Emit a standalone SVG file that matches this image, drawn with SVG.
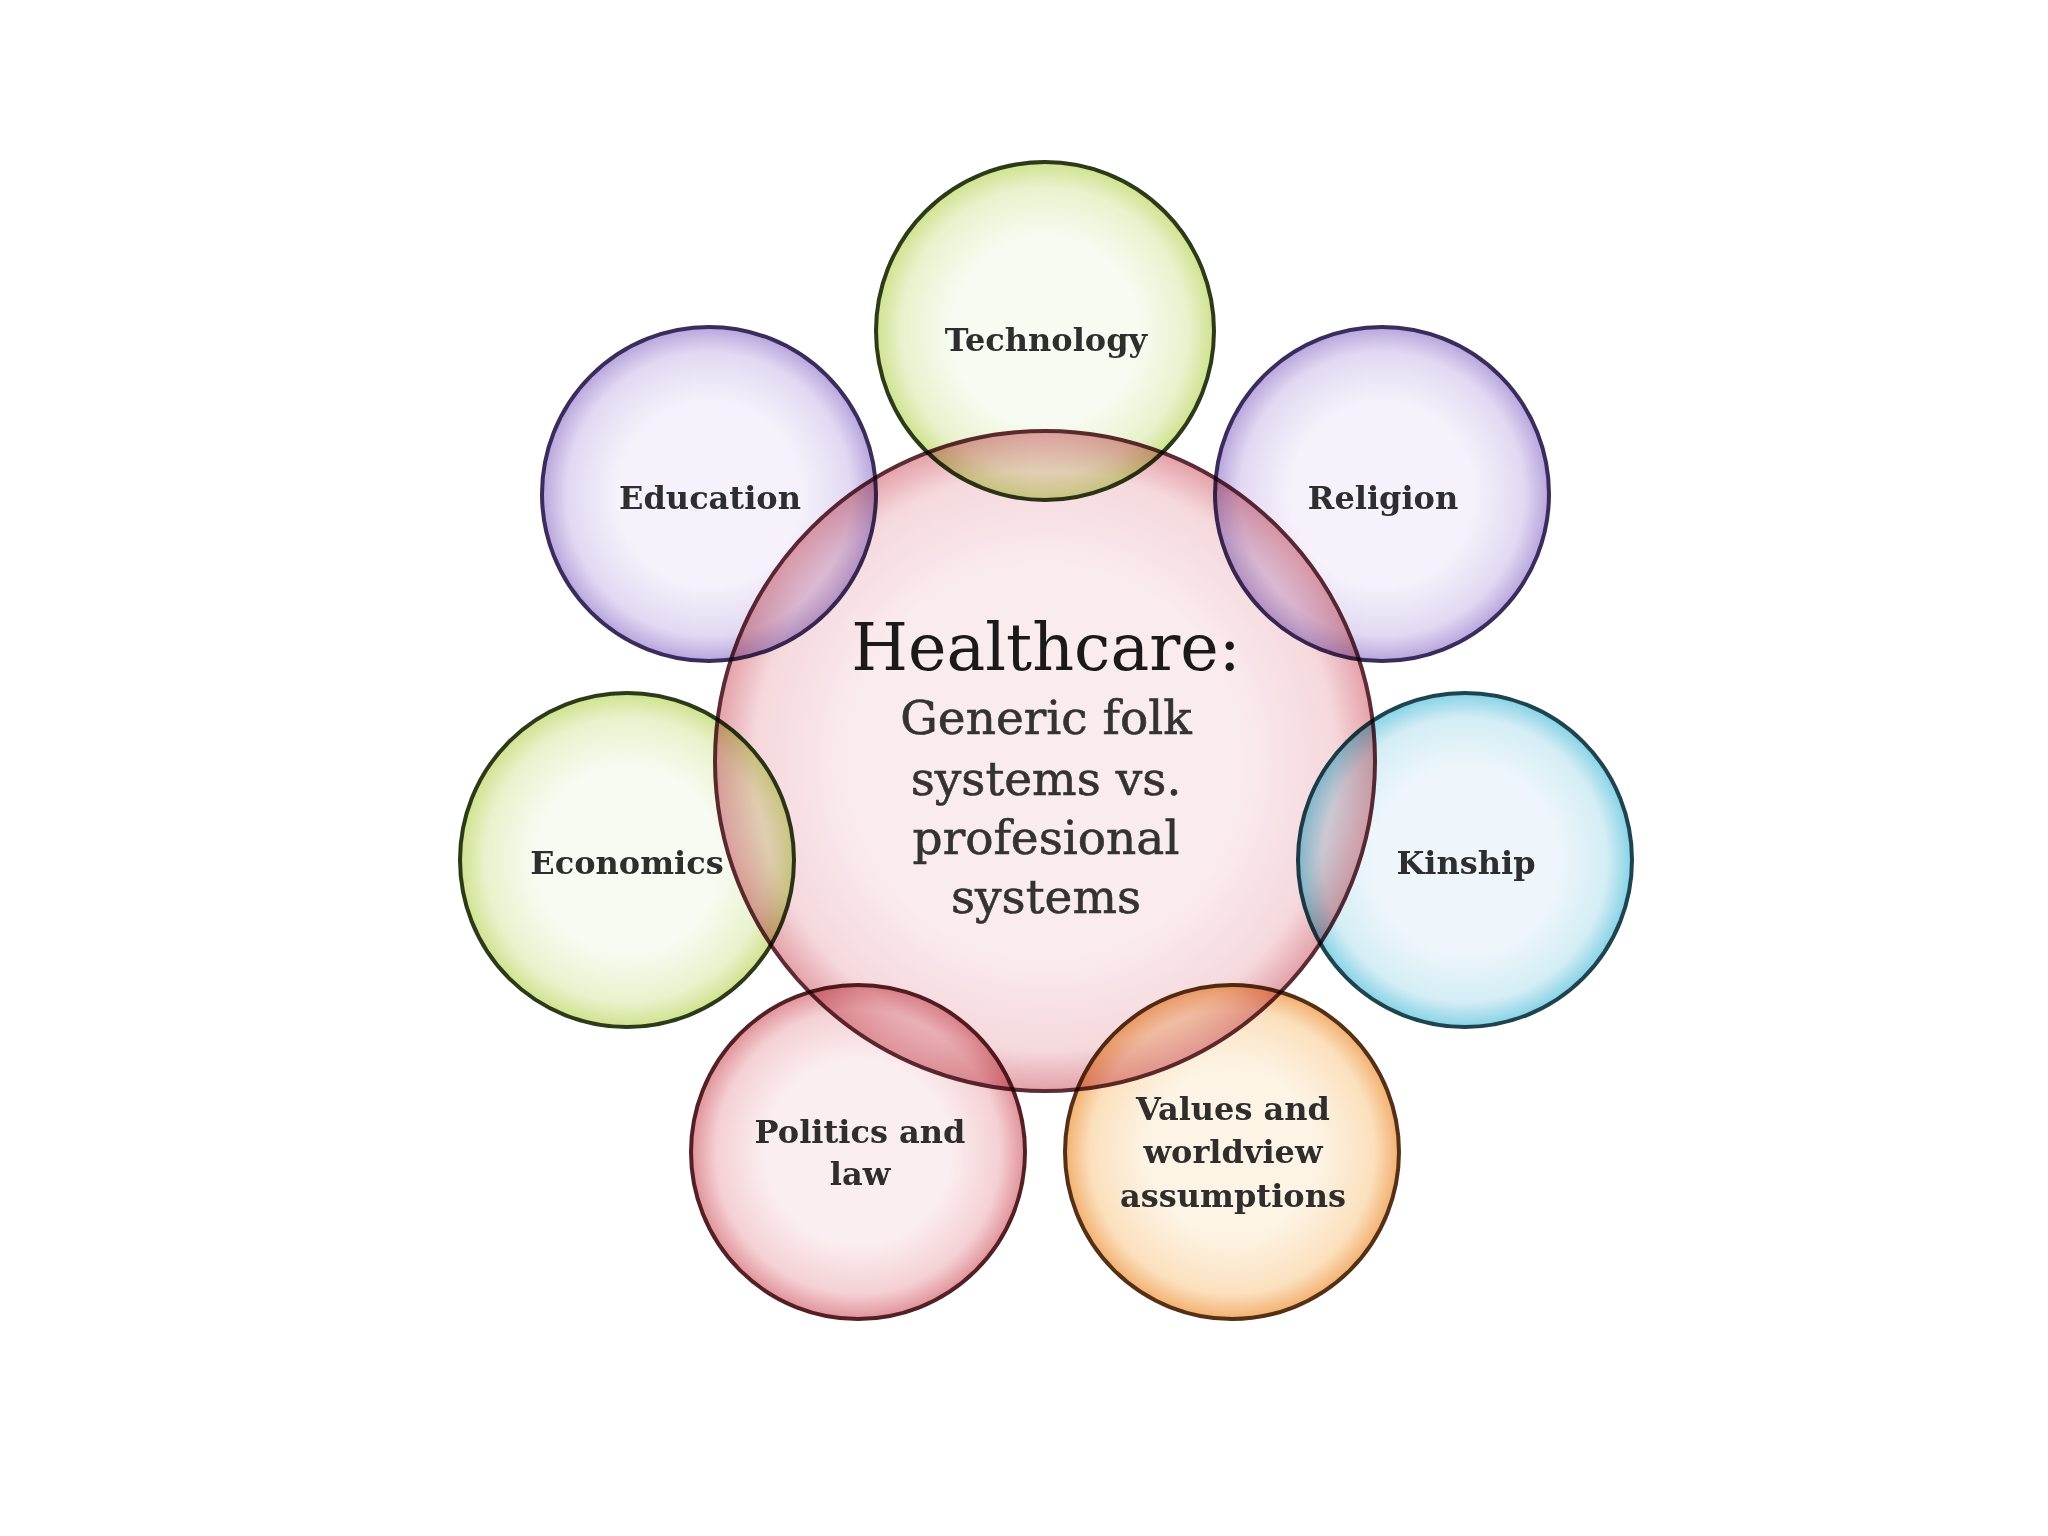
<svg xmlns="http://www.w3.org/2000/svg" width="2048" height="1536" viewBox="0 0 2048 1536">
<style>
.c{mix-blend-mode:multiply;stroke-width:4}
.lbl{font-family:"DejaVu Serif","Liberation Serif",serif;font-weight:bold;font-size:32px;fill:#2e2e2e;text-anchor:middle}
.hd{font-family:"DejaVu Serif","Liberation Serif",serif;font-size:65px;fill:#1a1a1a;text-anchor:middle}
.sub{font-family:"DejaVu Serif","Liberation Serif",serif;font-size:47px;fill:#333;text-anchor:middle;stroke:#333;stroke-width:0.6}
</style>
<defs>
<radialGradient id="gGreen" cx="50%" cy="50%" r="50%"><stop offset="0.55" stop-color="#f8fbf2"/><stop offset="0.85" stop-color="#e8f2cc"/><stop offset="1" stop-color="#cfe28e"/></radialGradient>
<radialGradient id="gPurple" cx="50%" cy="50%" r="50%"><stop offset="0.55" stop-color="#f6f1fb"/><stop offset="0.85" stop-color="#e2d8f2"/><stop offset="1" stop-color="#b7a5dc"/></radialGradient>
<radialGradient id="gPink" cx="50%" cy="50%" r="50%"><stop offset="0.6" stop-color="#faebef"/><stop offset="0.88" stop-color="#f5d8dc"/><stop offset="1" stop-color="#e3a1a8"/></radialGradient>
<radialGradient id="gCyan" cx="50%" cy="50%" r="50%"><stop offset="0.55" stop-color="#eef6fb"/><stop offset="0.85" stop-color="#d4edf5"/><stop offset="1" stop-color="#86d2e6"/></radialGradient>
<radialGradient id="gRed" cx="50%" cy="50%" r="50%"><stop offset="0.55" stop-color="#fbeef0"/><stop offset="0.85" stop-color="#f4d0d3"/><stop offset="1" stop-color="#e0929a"/></radialGradient>
<radialGradient id="gOrange" cx="50%" cy="50%" r="50%"><stop offset="0.5" stop-color="#fdf4e6"/><stop offset="0.85" stop-color="#fbe0bd"/><stop offset="1" stop-color="#f2b070"/></radialGradient>
</defs>
<rect width="2048" height="1536" fill="#ffffff"/>
<g id="connectors"/>
<g id="center"><circle class="c" cx="1045" cy="761" r="330" fill="url(#gPink)" stroke="#5e2a33"/></g>
<g id="technology"><circle class="c" cx="1045" cy="331" r="169" fill="url(#gGreen)" stroke="#2c3a18"/></g>
<g id="education"><circle class="c" cx="709" cy="494" r="167" fill="url(#gPurple)" stroke="#3a2c5c"/></g>
<g id="religion"><circle class="c" cx="1382" cy="494" r="167" fill="url(#gPurple)" stroke="#3a2c5c"/></g>
<g id="economics"><circle class="c" cx="627" cy="860" r="167" fill="url(#gGreen)" stroke="#2c3a18"/></g>
<g id="kinship"><circle class="c" cx="1465" cy="860" r="167" fill="url(#gCyan)" stroke="#1e4450"/></g>
<g id="politics"><circle class="c" cx="858" cy="1152" r="167" fill="url(#gRed)" stroke="#552024"/></g>
<g id="values"><circle class="c" cx="1232" cy="1152" r="167" fill="url(#gOrange)" stroke="#553015"/></g>
<g id="labels">
<text class="lbl" x="1046" y="351">Technology</text>
<text class="lbl" x="710" y="509">Education</text>
<text class="lbl" x="1383" y="509">Religion</text>
<text class="lbl" x="627" y="874">Economics</text>
<text class="lbl" x="1466" y="874">Kinship</text>
<text class="lbl" x="860" y="1143">Politics and</text>
<text class="lbl" x="860" y="1185">law</text>
<text class="lbl" x="1233" y="1120">Values and</text>
<text class="lbl" x="1233" y="1163">worldview</text>
<text class="lbl" x="1233" y="1207">assumptions</text>
<text class="hd" x="1046" y="670">Healthcare:</text>
<text class="sub" x="1046" y="734">Generic folk</text>
<text class="sub" x="1046" y="795">systems vs.</text>
<text class="sub" x="1046" y="854">profesional</text>
<text class="sub" x="1046" y="913">systems</text>
</g>
</svg>
